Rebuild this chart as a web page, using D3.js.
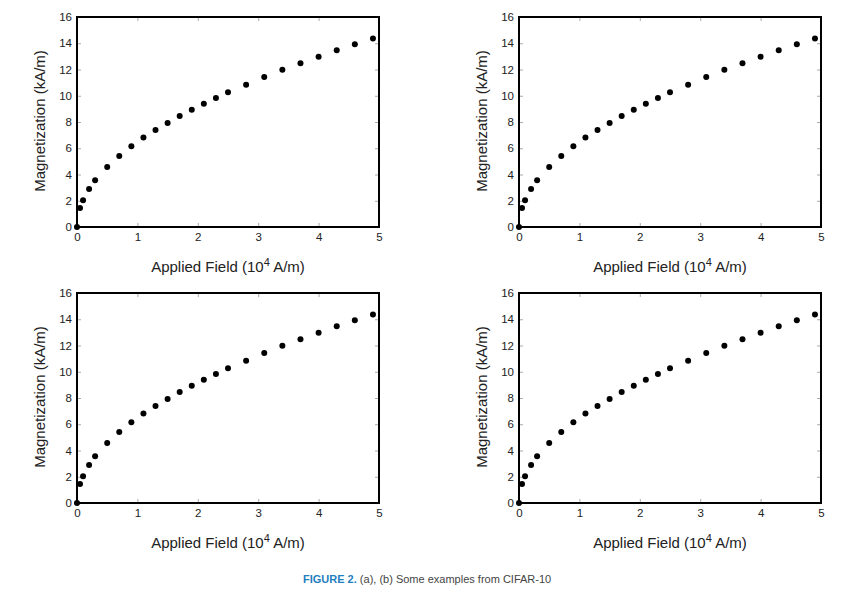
<!DOCTYPE html>
<html>
<head>
<meta charset="utf-8">
<script src="https://cdn.jsdelivr.net/npm/d3@7"></script>
<style>
  body { margin: 0; background: #fff; }
  svg { font-family: "Liberation Sans", Arial, sans-serif; }
</style>
</head>
<body>
<svg id="chart"></svg>
<script>
// Taille de la figure
const width = 849, height = 599;

// Données (champ en 10^4 A/m, aimantation en kA/m)
const fieldValues = [0, 0.05, 0.1, 0.2, 0.3, 0.5, 0.7, 0.9, 1.1, 1.3, 1.5, 1.7, 1.9, 2.1, 2.3, 2.5, 2.8, 3.1, 3.4, 3.7, 4.0, 4.3, 4.6, 4.9];
const magValues = [0, 1.45, 2.03, 2.9, 3.56, 4.57, 5.41, 6.15, 6.81, 7.39, 7.92, 8.46, 8.94, 9.4, 9.83, 10.26, 10.84, 11.43, 11.98, 12.47, 12.98, 13.46, 13.92, 14.37];
const xTicks = [0, 1, 2, 3, 4, 5];
const yTicks = [0, 2, 4, 6, 8, 10, 12, 14, 16];

// Position des quatre panneaux
const panels = [
  { left: 77, top: 17 },
  { left: 519, top: 17 },
  { left: 77, top: 293 },
  { left: 519, top: 293 }
];
const pw = 302, ph = 210;

const svg = d3.select("#chart")
    .attr("width", width)
    .attr("height", height);

const data = fieldValues.map((f, i) => ({ field: f, mag: magValues[i] }));

panels.forEach(p => {
    const g = svg.append("g").attr("transform", `translate(${p.left},${p.top})`);

    const xScale = d3.scaleLinear().domain([0, 5]).range([0, pw]);
    const yScale = d3.scaleLinear().domain([0, 16]).range([ph, 0]);

    // Graduations vers l'intérieur (grises) sur les quatre côtés
    const tickStyle = sel => {
        sel.select(".domain").remove();
        sel.selectAll(".tick line").attr("stroke", "#aaa").attr("stroke-width", 1);
    };
    g.append("g").attr("transform", `translate(0,${ph})`)
        .call(d3.axisBottom(xScale).tickValues(xTicks).tickSize(-4).tickPadding(6).tickFormat(d3.format("d")))
        .call(tickStyle)
        .selectAll("text").attr("font-size", 11.5).attr("fill", "#222")
        .attr("font-family", "Liberation Sans, Arial, sans-serif");
    g.append("g")
        .call(d3.axisTop(xScale).tickValues(xTicks).tickSize(-4).tickFormat(""))
        .call(tickStyle);
    g.append("g")
        .call(d3.axisLeft(yScale).tickValues(yTicks).tickSize(-4).tickPadding(5).tickFormat(d3.format("d")))
        .call(tickStyle)
        .selectAll("text").attr("font-size", 11.5).attr("fill", "#222")
        .attr("font-family", "Liberation Sans, Arial, sans-serif");
    g.append("g").attr("transform", `translate(${pw},0)`)
        .call(d3.axisRight(yScale).tickValues(yTicks).tickSize(-4).tickFormat(""))
        .call(tickStyle);

    // Cadre
    g.append("rect")
        .attr("width", pw).attr("height", ph)
        .attr("fill", "none").attr("stroke", "#000").attr("stroke-width", 2);

    // Points
    g.selectAll("circle")
        .data(data)
        .enter()
        .append("circle")
        .attr("cx", d => xScale(d.field))
        .attr("cy", d => yScale(d.mag))
        .attr("r", 3)
        .attr("fill", "#000");

    // Titres des axes
    const xt = g.append("text")
        .attr("x", pw / 2).attr("y", ph + 45)
        .attr("text-anchor", "middle")
        .attr("font-size", 15).attr("fill", "#222");
    xt.append("tspan").text("Applied Field (10");
    xt.append("tspan").attr("dy", -6).attr("font-size", 11).text("4");
    xt.append("tspan").attr("dy", 6).text(" A/m)");

    g.append("text")
        .attr("transform", `translate(-32,${ph / 2 - 1}) rotate(-90)`)
        .attr("text-anchor", "middle")
        .attr("font-size", 15).attr("fill", "#222")
        .text("Magnetization (kA/m)");
});

// Légende de la figure
const cap = svg.append("text")
    .attr("x", 303).attr("y", 583)
    .attr("font-size", 11).attr("fill", "#444");
cap.append("tspan").attr("font-weight", "bold").attr("fill", "#1f7fc0").text("FIGURE 2.");
cap.append("tspan").text("  (a), (b) Some examples from CIFAR-10");
</script>
</body>
</html>
